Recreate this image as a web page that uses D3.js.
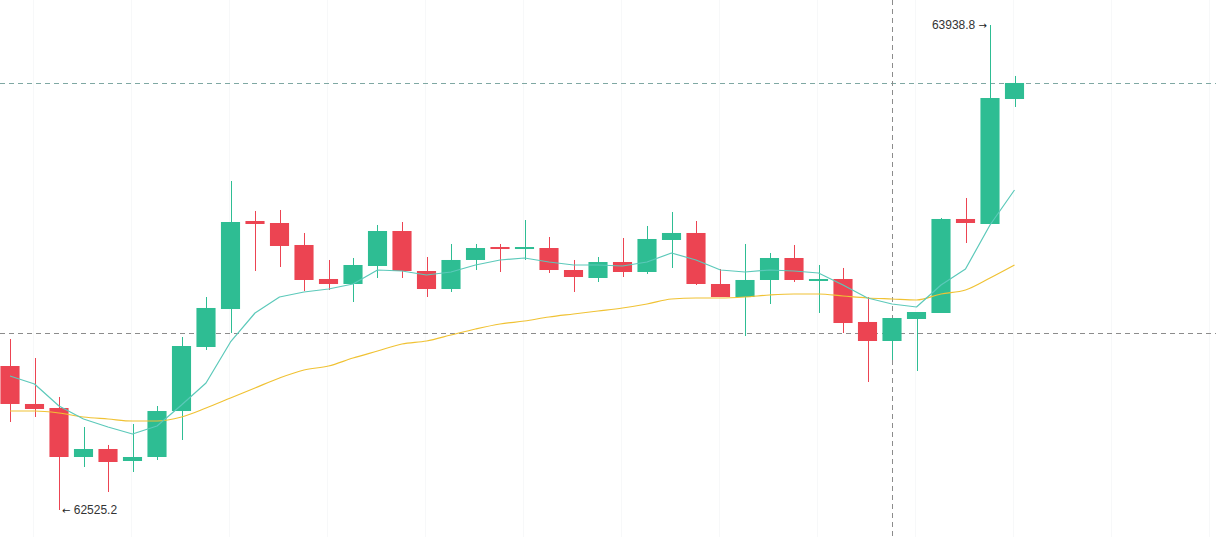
<!DOCTYPE html>
<html>
<head>
<meta charset="utf-8">
<script src="https://cdn.jsdelivr.net/npm/d3@7"></script>
<style>
  html, body { margin: 0; padding: 0; background: #fff; }
  svg { display: block; }
</style>
</head>
<body>
<div id="chart"></div>
<script>
// candle values (one entry per candle, left to right)
const opens  = [62944.9, 62834.2, 62822.5, 62679.7, 62703.0, 62668.0, 62679.7, 62813.7, 63000.3, 63111.0,
                63367.5, 63361.7, 63297.6, 63198.5, 63183.9, 63236.4, 63338.4, 63221.8, 63169.3, 63253.9,
                63291.7, 63285.9, 63288.8, 63224.7, 63201.4, 63248.0, 63218.9, 63312.2, 63332.6, 63183.9,
                63146.0, 63195.6, 63259.7, 63192.7, 63198.5, 63073.2, 63017.8, 63081.9, 63099.4, 63373.4,
                63358.8, 63723.1];
const closes = [62834.2, 62819.6, 62679.7, 62703.0, 62665.1, 62679.7, 62813.7, 63003.2, 63114.0, 63364.6,
                63358.8, 63294.7, 63195.6, 63183.9, 63239.3, 63338.4, 63221.8, 63169.3, 63253.9, 63288.8,
                63285.9, 63291.7, 63224.7, 63204.3, 63248.0, 63218.9, 63315.1, 63332.6, 63183.9, 63146.0,
                63195.6, 63259.7, 63195.6, 63198.5, 63070.2, 63017.8, 63084.8, 63102.3, 63373.4, 63361.7,
                63726.0, 63769.8];
const highs  = [63023.6, 62968.2, 62854.6, 62767.1, 62714.7, 62775.9, 62828.3, 63029.4, 63146.0, 63484.1,
                63396.7, 63399.6, 63332.6, 63253.9, 63259.7, 63355.9, 63364.6, 63262.6, 63300.5, 63300.5,
                63300.5, 63370.4, 63320.9, 63253.9, 63262.6, 63318.0, 63353.0, 63393.8, 63367.5, 63227.6,
                63300.5, 63274.3, 63297.6, 63239.3, 63230.6, 63146.0, 63084.8, 63102.3, 63376.3, 63434.6,
                63938.8, 63790.2];
const lows   = [62781.7, 62796.3, 62525.2, 62650.5, 62577.7, 62636.0, 62670.9, 62729.2, 62991.5, 63041.1,
                63221.8, 63233.5, 63163.5, 63166.4, 63131.4, 63201.4, 63201.4, 63146.0, 63160.6, 63224.7,
                63218.9, 63253.9, 63216.0, 63160.6, 63189.7, 63204.3, 63213.1, 63230.6, 63181.0, 63146.0,
                63032.3, 63125.6, 63189.7, 63099.4, 63041.1, 62898.3, 62962.4, 62930.3, 63099.4, 63303.4,
                63358.8, 63699.8];

// moving average lines
const maFast = [62915.8, 62892.4, 62828.3, 62790.4, 62767.1, 62746.7, 62770.0, 62831.2, 62895.4, 63014.9,
                63099.4, 63146.0, 63160.6, 63169.3, 63183.9, 63224.7, 63221.8, 63210.1, 63218.9, 63239.3,
                63253.9, 63259.7, 63248.0, 63239.3, 63239.3, 63236.4, 63248.0, 63274.3, 63253.9, 63224.7,
                63218.9, 63224.7, 63221.8, 63216.0, 63181.0, 63143.1, 63125.6, 63116.9, 63181.0, 63227.6,
                63355.9, 63457.9];
const maSlow = [62813.7, 62813.7, 62807.9, 62796.3, 62790.4, 62784.6, 62784.6, 62796.3, 62822.5, 62851.6,
                62880.8, 62909.9, 62933.3, 62944.9, 62968.2, 62988.6, 63009.0, 63017.8, 63035.3, 63052.7,
                63067.3, 63076.1, 63087.7, 63096.5, 63105.2, 63114.0, 63125.6, 63140.2, 63143.1, 63143.1,
                63146.0, 63151.8, 63154.8, 63154.8, 63148.9, 63143.1, 63140.2, 63137.3, 63154.8, 63166.4,
                63201.4, 63239.3];

// crosshair position (candle index, price)
const crossIndex = 36;
const crossPrice = 63041.1;

const width = 1216;
const height = 537;
const green = "#2ebd93";
const red = "#ec4452";

const candles = opens.map((o, i) => ({
  i: i, open: o, close: closes[i], high: highs[i], low: lows[i]
}));

const svg = d3
  .select("#chart")
  .append("svg")
  .attr("width", width)
  .attr("height", height);

const x = d3
  .scaleLinear()
  .domain([0, candles.length - 1])
  .range([10, 1014.5]);

const step = x(1) - x(0);
const bodyW = step * 0.78;

const y = d3
  .scaleLinear()
  .domain([62525.2, 63938.8])
  .range([510, 25]);

// very faint background grid
svg
  .selectAll(".vgrid")
  .data(d3.range(0.94, candles.length + 8, 4))
  .enter()
  .append("line")
  .attr("class", "vgrid")
  .attr("x1", (d) => Math.round(x(d)) + 0.5)
  .attr("x2", (d) => Math.round(x(d)) + 0.5)
  .attr("y1", 0)
  .attr("y2", height)
  .attr("stroke", "#f7f8f9")
  .attr("stroke-width", 1);

// dashed last price line and crosshair
const lastPrice = closes[closes.length - 1];
svg
  .append("line")
  .attr("x1", 0)
  .attr("x2", width)
  .attr("y1", Math.round(y(lastPrice)) + 0.5)
  .attr("y2", Math.round(y(lastPrice)) + 0.5)
  .attr("stroke", "#7fa8a3")
  .attr("stroke-width", 1)
  .attr("stroke-dasharray", "5,4");

svg
  .append("line")
  .attr("x1", 0)
  .attr("x2", width)
  .attr("y1", Math.round(y(crossPrice)) + 0.5)
  .attr("y2", Math.round(y(crossPrice)) + 0.5)
  .attr("stroke", "#8c8c8c")
  .attr("stroke-width", 1)
  .attr("stroke-dasharray", "5,4");

svg
  .append("line")
  .attr("x1", Math.round(x(crossIndex)) + 0.5)
  .attr("x2", Math.round(x(crossIndex)) + 0.5)
  .attr("y1", 0)
  .attr("y2", height)
  .attr("stroke", "#8c8c8c")
  .attr("stroke-width", 1)
  .attr("stroke-dasharray", "5,4");

// wicks
svg
  .selectAll(".wick")
  .data(candles)
  .enter()
  .append("line")
  .attr("class", "wick")
  .attr("x1", (d) => Math.round(x(d.i)) + 0.5)
  .attr("x2", (d) => Math.round(x(d.i)) + 0.5)
  .attr("y1", (d) => y(d.high))
  .attr("y2", (d) => y(d.low))
  .attr("stroke", (d) => (d.close >= d.open ? green : red))
  .attr("stroke-width", 1);

// bodies
svg
  .selectAll(".body")
  .data(candles)
  .enter()
  .append("rect")
  .attr("class", "body")
  .attr("x", (d) => x(d.i) - bodyW / 2)
  .attr("width", bodyW)
  .attr("y", (d) => y(Math.max(d.open, d.close)))
  .attr("height", (d) => Math.max(2, Math.abs(y(d.open) - y(d.close))))
  .attr("fill", (d) => (d.close >= d.open ? green : red));

// moving averages
const line = d3
  .line()
  .x((d, i) => x(i))
  .y((d) => y(d))
  .curve(d3.curveMonotoneX);

svg
  .append("path")
  .datum(maSlow)
  .attr("fill", "none")
  .attr("stroke", "#f0c234")
  .attr("stroke-width", 1.2)
  .attr("stroke-linejoin", "round")
  .attr("d", line);

svg
  .append("path")
  .datum(maFast)
  .attr("fill", "none")
  .attr("stroke", "#5cc9ba")
  .attr("stroke-width", 1.2)
  .attr("stroke-linejoin", "round")
  .attr("d", line.curve(d3.curveLinear));

// max / min labels
const maxIdx = d3.maxIndex(highs);
const minIdx = d3.minIndex(lows);
const labelFont = "Arial, 'Liberation Sans', sans-serif";

const maxLabel = svg
  .append("text")
  .attr("x", x(maxIdx) - 3)
  .attr("y", y(highs[maxIdx]))
  .attr("dy", "0.35em")
  .attr("text-anchor", "end")
  .attr("font-family", labelFont)
  .attr("font-size", 12)
  .attr("fill", "#333");
maxLabel.append("tspan").text(highs[maxIdx].toFixed(1) + " ");
maxLabel
  .append("tspan")
  .attr("font-family", "'DejaVu Sans', sans-serif")
  .attr("font-size", 10)
  .attr("fill", "#222")
  .text("→");

const minLabel = svg
  .append("text")
  .attr("x", x(minIdx) + 3)
  .attr("y", y(lows[minIdx]))
  .attr("dy", "0.35em")
  .attr("text-anchor", "start")
  .attr("font-family", labelFont)
  .attr("font-size", 12)
  .attr("fill", "#333");
minLabel
  .append("tspan")
  .attr("font-family", "'DejaVu Sans', sans-serif")
  .attr("font-size", 10)
  .attr("fill", "#222")
  .text("←");
minLabel.append("tspan").text(" " + lows[minIdx].toFixed(1));
</script>
</body>
</html>
